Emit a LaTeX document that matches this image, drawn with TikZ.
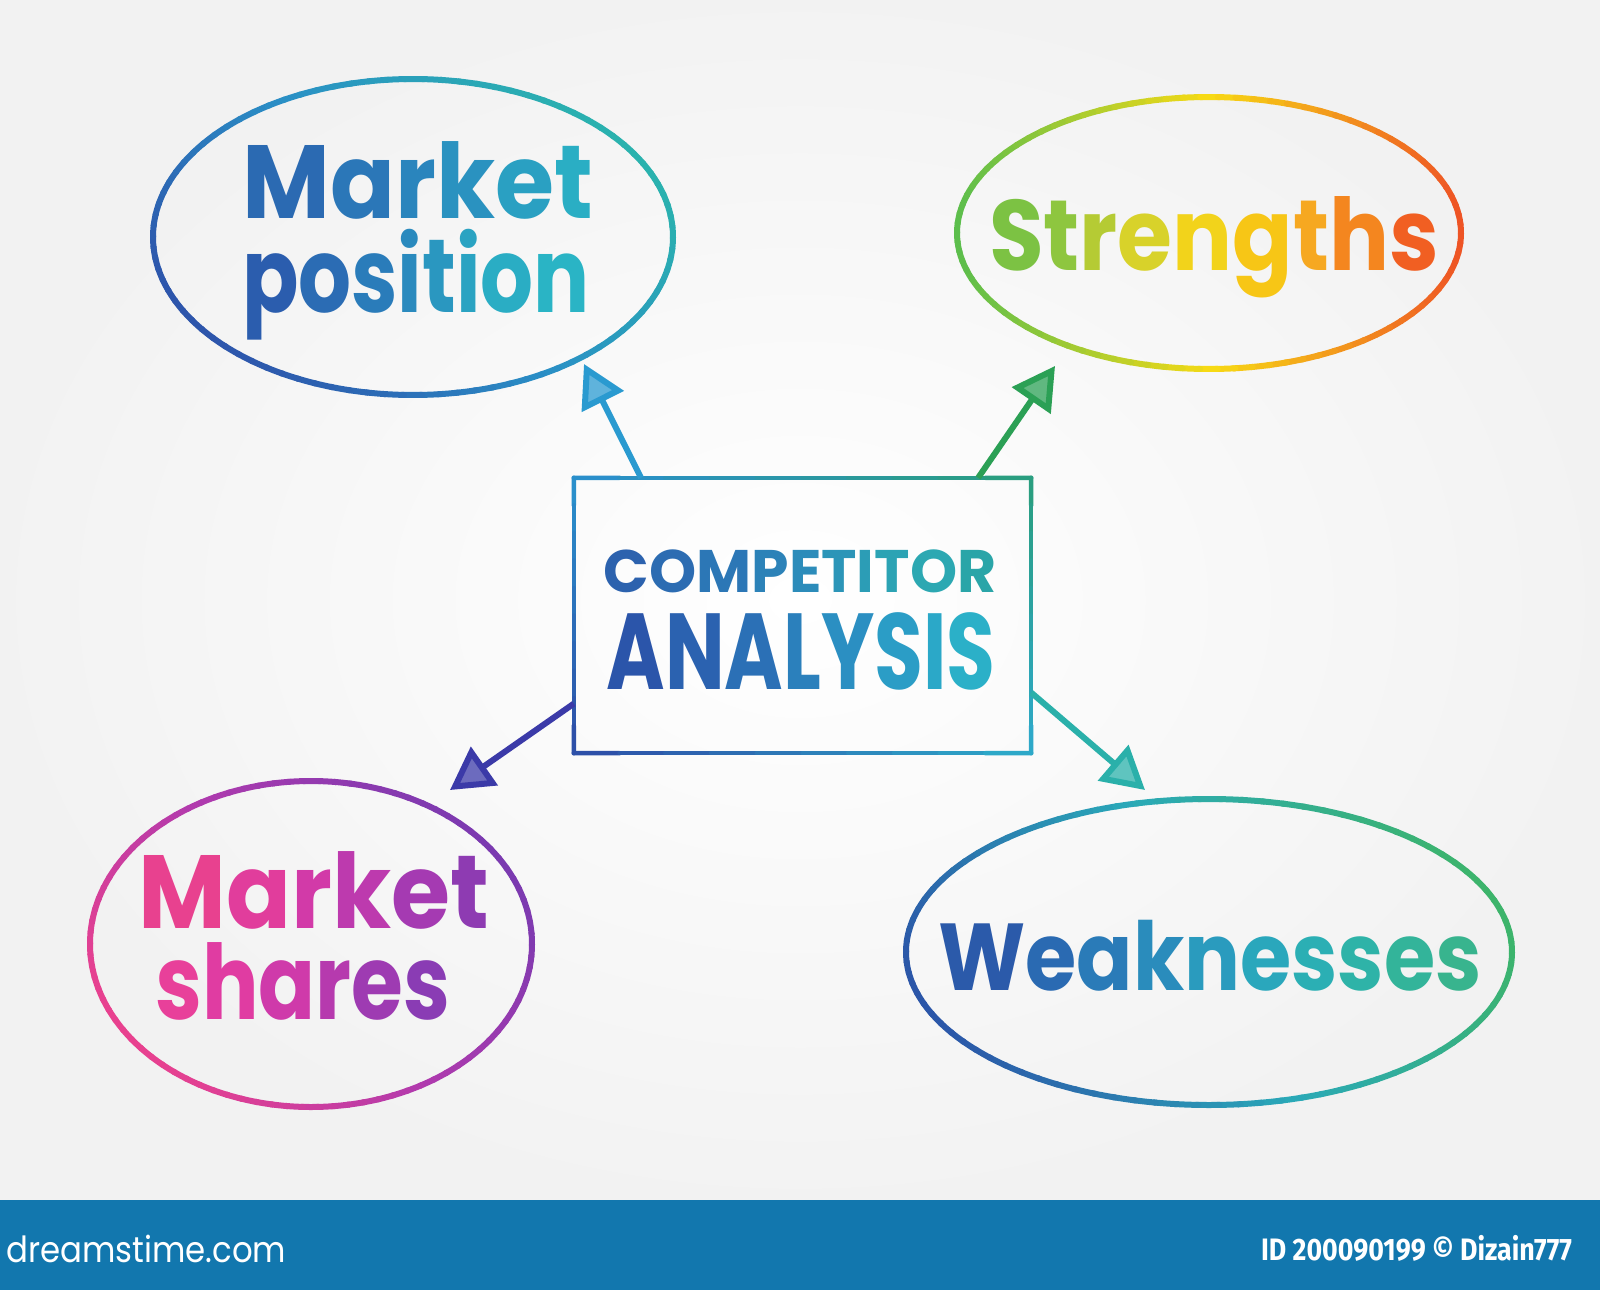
\documentclass[tikz,border=0pt]{standalone}
\usepackage{fontspec}
\usepackage{graphicx}
\usetikzlibrary{arrows.meta,calc,shapes.geometric}
\newfontfamily\hand{Poppins}
\newfontfamily\barfont{Fira Sans}
\definecolor{barblue}{HTML}{1277AE}
\newcommand\hc[2]{\textcolor[HTML]{#1}{#2}}
% gradient ellipse: node, rx, ry, phi, c1, c2, c3
\newcommand\gradellipse[7]{%
  \foreach \a in {0,4,...,356}{%
    \pgfmathsetmacro\gt{(1+cos(\a+2-#4))/2}%
    \pgfmathtruncatemacro\gh{\gt<0.5 ? 0 : 1}%
    \pgfmathtruncatemacro\gp{\gt<0.5 ? 200*\gt : 200*\gt-100}%
    \ifnum\gh=0 \colorlet{segc}{#6!\gp!#5}\else\colorlet{segc}{#7!\gp!#6}\fi
    \draw[segc, line width=6pt, line cap=round] ($(#1)+(\a:#2 and #3)$)
      arc[start angle=\a, end angle=\a+4.5, x radius=#2, y radius=#3];
  }%
}
% gradient line: from, to, c1, c2
\newcommand\gradline[4]{%
  \foreach \s in {0,...,9}{%
    \pgfmathtruncatemacro\gp{\s*100/9}%
    \pgfmathsetmacro\ga{\s/10}%
    \pgfmathsetmacro\gb{\s/10+0.1}%
    \colorlet{segc}{#4!\gp!#3}%
    \draw[segc, line width=4.5pt, line cap=round] ($(#1)!\ga!(#2)$) -- ($(#1)!\gb!(#2)$);
  }%
}
\definecolor{mpL}{HTML}{2D55AB}\definecolor{mpM}{HTML}{2A8FC6}\definecolor{mpR}{HTML}{2AB2AE}
\definecolor{stL}{HTML}{5CBE4C}\definecolor{stM}{HTML}{F7DA14}\definecolor{stR}{HTML}{EE5325}
\definecolor{msL}{HTML}{E8418F}\definecolor{msM}{HTML}{B03AAE}\definecolor{msR}{HTML}{7B3AB0}
\definecolor{wkL}{HTML}{2B56A8}\definecolor{wkM}{HTML}{2AA9B8}\definecolor{wkR}{HTML}{3DB46A}
\definecolor{arMP}{HTML}{2A9AD0}\definecolor{arST}{HTML}{2BA055}
\definecolor{arMS}{HTML}{3B3AA8}\definecolor{arWK}{HTML}{2AB0AA}
\tikzset{
  conn/.style={draw=#1, line width=6pt, -{Triangle[length=42pt,width=46pt,fill=#1!75!white]}},
  bigtxt/.style={anchor=base, inner sep=0pt, font=\hand\bfseries\fontsize{#1}{#1}\selectfont},
}
\begin{document}
\begin{tikzpicture}[x=1pt,y=-1pt]
\useasboundingbox (0,0) rectangle (1600,1290);
\shade[inner color=white, outer color=black!5] (0,0) rectangle (1600,1200);
\fill[barblue] (0,1200) rectangle (1600,1290);

% shapes
\node[ellipse, minimum width=520pt, minimum height=316pt] (mp) at (413,237) {};
\node[ellipse, minimum width=504pt, minimum height=272pt] (st) at (1209,233) {};
\node[ellipse, minimum width=442pt, minimum height=326pt] (ms) at (311,944) {};
\node[ellipse, minimum width=606pt, minimum height=306pt] (wk) at (1209,952) {};
\node[minimum width=457pt, minimum height=275pt, inner sep=0pt] (cen) at (802.5,615.5) {};

\gradellipse{mp}{260}{158}{-30}{mpL}{mpM}{mpR}
\gradellipse{st}{252}{136}{0}{stL}{stM}{stR}
\gradellipse{ms}{221}{163}{-30}{msL}{msM}{msR}
\gradellipse{wk}{303}{153}{-15}{wkL}{wkM}{wkR}

\definecolor{rtl}{HTML}{2A8FCB}\definecolor{rtr}{HTML}{2A9E80}
\definecolor{rbl}{HTML}{2D50A8}\definecolor{rbr}{HTML}{2DA8C8}
\gradline{cen.north west}{cen.north east}{rtl}{rtr}
\gradline{cen.south west}{cen.south east}{rbl}{rbr}
\gradline{cen.north west}{cen.south west}{rtl}{rbl}
\gradline{cen.north east}{cen.south east}{rtr}{rbr}

% arrows
\coordinate (tipMP) at (584,364);
\coordinate (tipST) at (1055,366);
\coordinate (tipMS) at (450,790);
\coordinate (tipWK) at (1145,790);
\draw[conn=arMP] ($(cen.north west)!0.147!(cen.north east)$) -- (tipMP);
\draw[conn=arST] ($(cen.north west)!0.884!(cen.north east)$) -- (tipST);
\draw[conn=arMS] ($(cen.north west)!0.82!(cen.south west)$) -- (tipMS);
\draw[conn=arWK] ($(cen.north east)!0.78!(cen.south east)$) -- (tipWK);

% texts
\node[bigtxt=104] (t1) at (418,218) {\scalebox{0.92}[1]{\hc{2B6AB2}{M}\hc{2B77B8}{a}\hc{2A85BD}{r}\hc{2A92C0}{k}\hc{2AA0C2}{e}\hc{2AAEC4}{t}}};
\node[bigtxt=104] (t2) at (416,312) {\scalebox{0.80}[1]{\hc{2B5DAE}{p}\hc{2B6CB4}{o}\hc{2A7CBA}{s}\hc{2A8ABE}{i}\hc{2A97C0}{t}\hc{2AA3C2}{i}\hc{2AADC4}{o}\hc{2AB4C5}{n}}};
\node[bigtxt=100] (t3) at (1214,270) {\scalebox{0.89}[1]{\hc{7CC243}{S}\hc{8EC63F}{t}\hc{B5CB34}{r}\hc{D8D22A}{e}\hc{F2D31B}{n}\hc{F7C616}{g}\hc{F6A821}{t}\hc{F4861F}{h}\hc{F15F22}{s}}};
\node[bigtxt=95] (t4) at (1210,990) {\scalebox{0.874}[1]{\hc{2B5AAA}{W}\hc{2A6AB2}{e}\hc{2A7BB8}{a}\hc{2A8CBC}{k}\hc{2A9BBE}{n}\hc{2AA7BC}{e}\hc{2BAFB4}{s}\hc{2EB3A8}{s}\hc{33B49A}{e}\hc{38B48E}{s}}};
\node[bigtxt=104] (t5) at (314,928) {\scalebox{0.92}[1]{\hc{E8418F}{M}\hc{E13D9C}{a}\hc{D23AA8}{r}\hc{BD3AAE}{k}\hc{A53AB2}{e}\hc{8E3BB2}{t}}};
\node[bigtxt=104] (t6) at (303,1019) {\scalebox{0.807}[1]{\hc{E8409A}{s}\hc{E03CA2}{h}\hc{CF3AAA}{a}\hc{B63AAE}{r}\hc{9E3BB2}{e}\hc{8A3CB4}{s}}};
\node[bigtxt=60] (t7) at (800,592) {\hc{2C62AE}{C}\hc{2C6CB2}{O}\hc{2C77B6}{M}\hc{2C82B8}{P}\hc{2C8CBA}{E}\hc{2C95B8}{T}\hc{2C9DB6}{I}\hc{2CA3B4}{T}\hc{2CA8B2}{O}\hc{2AA5A8}{R}};
\node[bigtxt=108] (t8) at (801,689) {\scalebox{0.735}[1]{\hc{2B55AA}{A}\hc{2B62B0}{N}\hc{2B70B6}{A}\hc{2B80BC}{L}\hc{2B8FC2}{Y}\hc{2B9DC6}{S}\hc{2BA8C8}{I}\hc{2BB0C8}{S}}};

% footer
\node[anchor=base west, inner sep=0pt, text=white, font=\hand\fontsize{36}{36}\selectfont] (brand) at (6,1262) {\scalebox{0.9}[1]{dreamstime.com}};
\node[anchor=base east, inner sep=0pt, text=white, font=\barfont\bfseries\fontsize{31}{31}\selectfont] (credit) at (1572,1260) {\scalebox{0.864}[1]{ID 200090199 © Dizain777}};
\end{tikzpicture}
\end{document}
